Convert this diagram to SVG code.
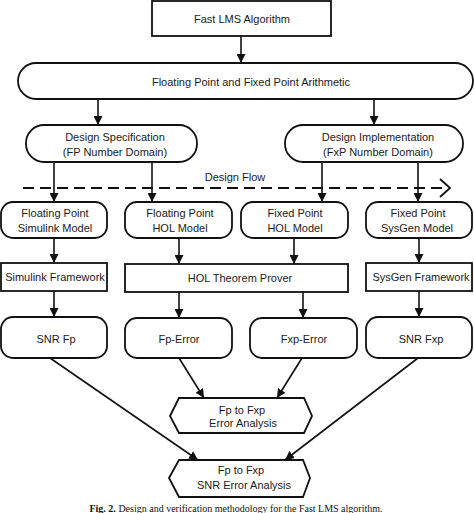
<svg xmlns="http://www.w3.org/2000/svg" width="474" height="513" viewBox="0 0 474 513">
<defs>
<style>
.n{fill:#fff;stroke:#111;stroke-width:1.8}
.t{font-family:"Liberation Sans",Arial,sans-serif;font-size:11px;fill:#1a1a1a;text-anchor:middle}
.c{stroke:#111;stroke-width:1.6;fill:none;marker-end:url(#ah)}
.cap{font-family:"Liberation Serif","Times New Roman",serif;font-size:10px;fill:#111;text-anchor:middle}
</style>
<marker id="ah" viewBox="0 0 10 10" refX="10" refY="5" markerWidth="9" markerHeight="9" markerUnits="userSpaceOnUse" orient="auto">
<path d="M0,0 L10,5 L0,10 Z" fill="#111"/>
</marker>
</defs>
<rect width="474" height="513" fill="#fff"/>

<g id="connectors">
<line class="c" x1="241" y1="36" x2="241" y2="63"/>
<line class="c" x1="98" y1="99" x2="98" y2="125"/>
<line class="c" x1="374" y1="99" x2="374" y2="125"/>
<line class="c" x1="54" y1="162" x2="54" y2="202"/>
<line class="c" x1="152" y1="162" x2="152" y2="202"/>
<line class="c" x1="322" y1="162" x2="322" y2="202"/>
<line class="c" x1="418" y1="162" x2="418" y2="202"/>
<line class="c" x1="54" y1="238" x2="54" y2="263"/>
<line class="c" x1="179" y1="238" x2="179" y2="264"/>
<line class="c" x1="294" y1="238" x2="294" y2="264"/>
<line class="c" x1="419" y1="238" x2="419" y2="263"/>
<line class="c" x1="54" y1="291" x2="54" y2="317"/>
<line class="c" x1="179" y1="292" x2="179" y2="318"/>
<line class="c" x1="303" y1="292" x2="303" y2="318"/>
<line class="c" x1="419" y1="291" x2="419" y2="317"/>
<line class="c" x1="50" y1="358" x2="198" y2="460"/>
<line class="c" x1="179" y1="358" x2="204" y2="398"/>
<line class="c" x1="302" y1="358" x2="277" y2="398"/>
<line class="c" x1="418" y1="358" x2="285" y2="460"/>
<g id="design-flow">
<line x1="23" y1="188" x2="447" y2="188" stroke="#111" stroke-width="1.8" stroke-dasharray="11,6"/>
<polyline points="440,179 450,188 440,197" fill="none" stroke="#111" stroke-width="1.8"/>
<text class="t" x="235" y="181">Design Flow</text>
</g>
</g>

<g id="fast-lms">
<rect class="n" x="152" y="1" width="179" height="35"/>
<text class="t" x="242" y="23">Fast LMS Algorithm</text>
</g>
<g id="arithmetic">
<rect class="n" x="18" y="63" width="455" height="36" rx="18"/>
<text class="t" x="251" y="86">Floating Point and Fixed Point Arithmetic</text>
</g>
<g id="design-spec">
<rect class="n" x="26" y="125" width="171" height="37" rx="18"/>
<text class="t" x="115" y="141">Design Specification</text>
<text class="t" x="115" y="156">(FP Number Domain)</text>
</g>
<g id="design-impl">
<rect class="n" x="285" y="125" width="178" height="37" rx="18"/>
<text class="t" x="378" y="141">Design Implementation</text>
<text class="t" x="378" y="156">(FxP Number Domain)</text>
</g>

<g id="fp-simulink">
<rect class="n" x="1" y="202" width="106" height="36" rx="12"/>
<text class="t" x="55" y="217">Floating Point</text>
<text class="t" x="55" y="232">Simulink Model</text>
</g>
<g id="fp-hol">
<rect class="n" x="125" y="202" width="107" height="36" rx="12"/>
<text class="t" x="180" y="217">Floating Point</text>
<text class="t" x="180" y="232">HOL Model</text>
</g>
<g id="fxp-hol">
<rect class="n" x="241" y="202" width="107" height="36" rx="12"/>
<text class="t" x="295" y="217">Fixed Point</text>
<text class="t" x="295" y="232">HOL Model</text>
</g>
<g id="fxp-sysgen">
<rect class="n" x="366" y="202" width="106" height="36" rx="12"/>
<text class="t" x="418" y="217">Fixed Point</text>
<text class="t" x="417" y="232">SysGen Model</text>
</g>

<g id="simulink-fw">
<rect class="n" x="1" y="263" width="106" height="28"/>
<text class="t" x="55" y="281">Simulink Framework</text>
</g>
<g id="hol-prover">
<rect class="n" x="125" y="264" width="223" height="28"/>
<text class="t" x="240" y="282">HOL Theorem Prover</text>
</g>
<g id="sysgen-fw">
<rect class="n" x="366" y="263" width="106" height="28"/>
<text class="t" x="421" y="281">SysGen Framework</text>
</g>

<g id="snr-fp">
<rect class="n" x="1" y="317" width="106" height="41" rx="12"/>
<text class="t" x="56" y="343">SNR Fp</text>
</g>
<g id="fp-error">
<rect class="n" x="125" y="318" width="107" height="40" rx="12"/>
<text class="t" x="179" y="343">Fp-Error</text>
</g>
<g id="fxp-error">
<rect class="n" x="250" y="318" width="107" height="40" rx="12"/>
<text class="t" x="304" y="343">Fxp-Error</text>
</g>
<g id="snr-fxp">
<rect class="n" x="366" y="317" width="106" height="41" rx="12"/>
<text class="t" x="421" y="343">SNR Fxp</text>
</g>

<g id="error-analysis">
<polygon class="n" points="170,416 179,398 304,398 312,416 304,433 179,433"/>
<text class="t" x="242" y="414">Fp to Fxp</text>
<text class="t" x="243" y="427">Error Analysis</text>
</g>
<g id="snr-error-analysis">
<polygon class="n" points="169,478 179,460 303,460 310,478 303,497 179,497"/>
<text class="t" x="241" y="474">Fp to Fxp</text>
<text class="t" x="244" y="489">SNR Error Analysis</text>
</g>

<text class="cap" x="236" y="512"><tspan font-weight="bold">Fig. 2.</tspan> Design and verification methodology for the Fast LMS algorithm.</text>
</svg>
